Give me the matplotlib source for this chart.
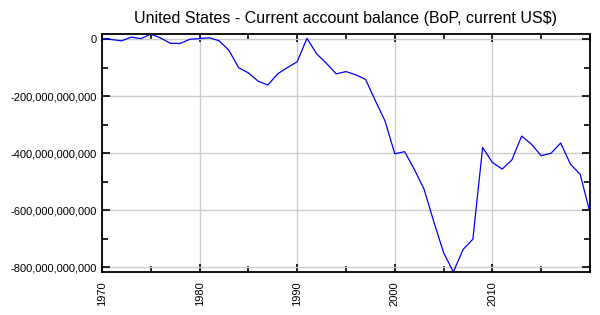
import matplotlib
matplotlib.use("Agg")
import matplotlib.pyplot as plt
from matplotlib.ticker import MultipleLocator, FuncFormatter

years = list(range(1970, 2021))
# current account balance, billions of US$
balance_bn = [
    2.3, -1.4, -5.8, 7.1, 2.0, 18.1, 4.3, -14.3, -15.1, -0.3,
    2.3, 5.0, -5.5, -38.7, -100.0, -118.2, -147.2, -160.7, -121.2, -99.5,
    -79.0, 2.9, -51.6, -84.8, -121.6, -113.6, -124.8, -140.7, -215.1, -286.6,
    -401.9, -394.1, -456.1, -526.0, -640.0, -748.0, -816.0, -737.0, -701.0, -379.7,
    -432.0, -455.3, -423.0, -339.5, -368.0, -408.5, -400.0, -364.0, -438.2, -474.0,
    -608.0,
]
values = [v * 1e9 for v in balance_bn]

title = "United States - Current account balance (BoP, current US$)"

plt.rcParams["font.family"] = ["Liberation Sans", "DejaVu Sans"]

fig = plt.figure(figsize=(6, 3.15), dpi=100)
ax = fig.add_axes([0.17, 0.1365, 0.8133, 0.7555])

ax.plot(years, values, color="blue", linewidth=0.9)

ax.set_xlim(1970, 2020)
ax.set_ylim(min(values), max(values))

ax.xaxis.set_major_locator(MultipleLocator(10))
ax.xaxis.set_minor_locator(MultipleLocator(5))
ax.xaxis.set_major_formatter(FuncFormatter(lambda v, p: "" if v >= 2020 else f"{int(v)}"))
ax.yaxis.set_major_locator(MultipleLocator(200e9))
ax.yaxis.set_minor_locator(MultipleLocator(100e9))
ax.yaxis.set_major_formatter(FuncFormatter(lambda v, p: f"{int(round(v)):,}"))

ax.grid(True, which="major", color="#cccccc", linewidth=1)
ax.set_axisbelow(True)

ax.tick_params(which="both", direction="in", top=True, right=True, colors="black", labelsize=8)
ax.tick_params(which="major", length=6, width=1.2)
ax.tick_params(which="minor", length=4, width=1.2)
ax.tick_params(axis="y", pad=4)
ax.tick_params(axis="x", pad=7, labelrotation=90)

for s in ax.spines.values():
    s.set_linewidth(1.3)
    s.set_color("black")

ax.set_title(title, fontsize=11.5, pad=8)

fig.savefig("out.png", dpi=100)
